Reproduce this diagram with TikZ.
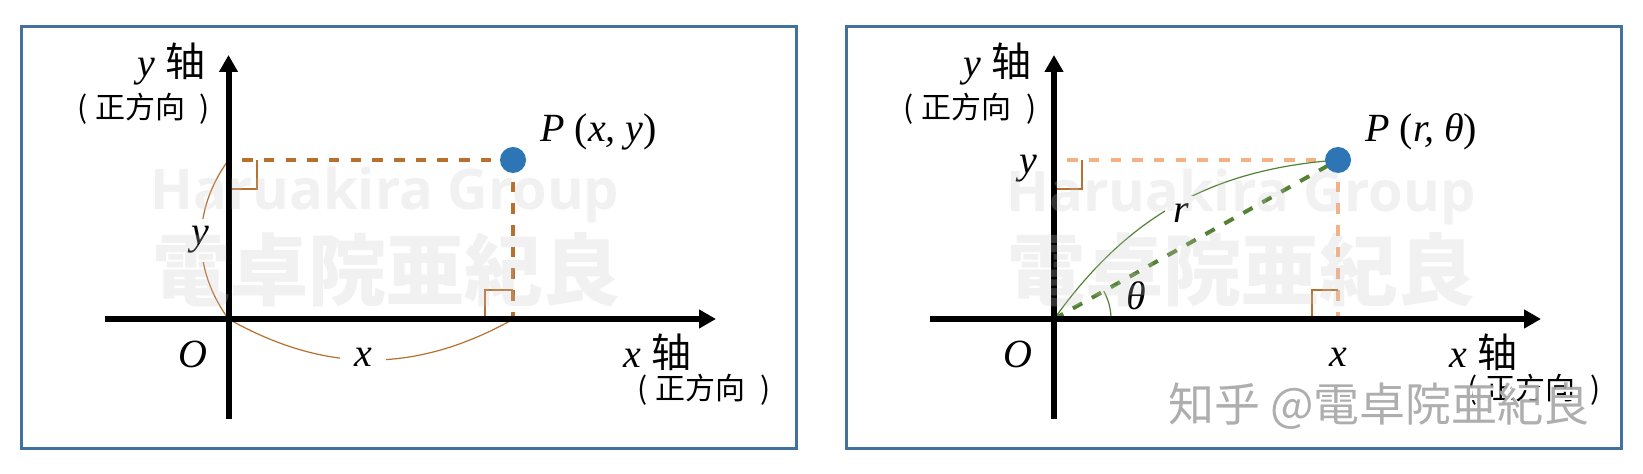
\documentclass[tikz,border=0pt]{standalone}
\usepackage{fontspec}
\setmainfont{Liberation Serif}
\newfontfamily\cjk{Noto Sans CJK SC}
\newfontfamily\wmcjk{Noto Sans CJK JP}
\newfontfamily\wmlatin{Open Sans}
\usepackage{tikz}
\usetikzlibrary{angles,arrows.meta,calc}
\definecolor{frameblue}{HTML}{41719C}
\definecolor{dotblue}{HTML}{2E75B6}
\definecolor{rulebrown}{HTML}{B8702E}
\definecolor{lightorange}{HTML}{F4B183}
\definecolor{darkgreen}{HTML}{548235}
\definecolor{markgray}{RGB}{200,200,200}

\begin{document}
\begin{tikzpicture}[x=0.5pt,y=-0.5pt,
	axis/.style={line width=3pt,-{Triangle[length=8.5pt,width=9pt]}},
	frame/.style={draw=frameblue,line width=1.5pt},
	guide/.style={line width=2pt,dash pattern=on 5.25pt off 5.6pt},
	corner/.style={draw=rulebrown,line width=0.7pt},
	brace/.style={line width=0.6pt},
	lbl/.style={font=\fontsize{20}{24}\selectfont\itshape,inner sep=1pt},
	axlbl/.style={font=\fontsize{20}{24}\selectfont,anchor=base east,inner sep=0pt},
	dirlbl/.style={font=\cjk\fontsize{15}{18}\selectfont,inner sep=0pt},
	wm/.style={text=markgray,text opacity=0.25},
	ptdot/.style={circle,fill=dotblue,minimum size=13pt,inner sep=0pt}]
		\fill[white] (0,0) rectangle (1643,474);
		\useasboundingbox (0,0) rectangle (1643,474);
		\draw[frame] (21.5,26.5) rectangle (796.5,448.5);
		\draw[frame] (846.5,26.5) rectangle (1621.5,448.5);
		\coordinate (O1) at (228.5,319);
		\coordinate (P1) at (513,160);
		\coordinate (Y1) at (228.5,160);
		\coordinate (X1) at (513,319);
		\coordinate (O2) at (1054,319);
		\coordinate (P2) at (1338,160);
		\coordinate (Y2) at (1054,160);
		\coordinate (X2) at (1338,319);
		\draw[guide,draw=rulebrown] (P1) -- (Y1);
		\draw[guide,draw=rulebrown] (P1) -- (X1);
		\draw[corner] (228.5,189) -| (257,160);
		\draw[corner] (485,319) |- (513,290);
		\draw[brace,draw=rulebrown] (Y1) to[bend right=36] (O1);
		\draw[brace,draw=rulebrown] (O1) to[bend right=29] (510,321);
		\draw[guide,draw=lightorange] (P2) -- (Y2);
		\draw[guide,draw=lightorange] (P2) -- (X2);
		\draw[corner] (1054,189) -| (1082,160);
		\draw[corner] (1312,319) |- (1338,290);
		\draw[guide,draw=darkgreen] (O2) -- (P2);
		\draw[brace,draw=darkgreen] (O2) to[bend left=25] (P2);
		\pic[draw=darkgreen,brace,angle radius=28.5pt]{angle=X2--O2--P2};
		\draw[axis] (105,319) -- (716,319);
		\draw[axis] (228.5,419) -- (228.5,55);
		\draw[axis] (930,319) -- (1541,319);
		\draw[axis] (1054,419) -- (1054,55);
		\node[axlbl] (ylab1) at (206,77) {\itshape y \upshape{\cjk 轴}};
		\node[dirlbl] (ydir1) at (143.5,109) {(\hspace{4pt}正方向\hspace{7pt})};
		\node[axlbl] (xlab1) at (692,368) {\itshape x \upshape{\cjk 轴}};
		\node[dirlbl] (xdir1) at (704,390) {(\hspace{4pt}正方向\hspace{7pt})};
		\node[lbl,anchor=base west] (Plab1) at (538,142) {P {\upshape(}x, y{\upshape)}};
		\node[lbl,anchor=base] (Olab1) at (193,368) {O};
		\node[lbl,anchor=base,fill=white,inner xsep=7pt] (xval1) at (363,367) {x};
		\node[lbl,anchor=base,fill=white,inner ysep=4pt] (yval1) at (200,245) {y};
		\node[axlbl] (ylab2) at (1032,77) {\itshape y \upshape{\cjk 轴}};
		\node[dirlbl] (ydir2) at (970,109) {(\hspace{4pt}正方向\hspace{7pt})};
		\node[axlbl] (xlab2) at (1518,368) {\itshape x \upshape{\cjk 轴}};
		\node[dirlbl] (xdir2) at (1534,390) {(\hspace{4pt}正方向\hspace{7pt})};
		\node[lbl,anchor=base west] (Plab2) at (1363,142) {P {\upshape(}r, θ{\upshape)}};
		\node[lbl,anchor=base] (Olab2) at (1018,368) {O};
		\node[lbl,anchor=base] (xval2) at (1338,367) {x};
		\node[lbl,anchor=base] (yval2) at (1028,174) {y};
		\node[lbl,anchor=base,fill=white,inner sep=4pt] (rval2) at (1181,223) {r};
		\node[lbl,anchor=base] (tval2) at (1136,310) {θ};
		\node[ptdot] (dot1) at (P1) {};
		\node[ptdot] (dot2) at (P2) {};
		\node[wm,font=\wmlatin\bfseries\fontsize{28}{30}\selectfont,anchor=base] (wmA1) at (385,210) {Haruakira Group};
		\node[wm,font=\wmcjk\bfseries\fontsize{39}{40}\selectfont] (wmB1) at (386,270) {電卓院亜紀良};
		\node[wm,font=\wmlatin\bfseries\fontsize{28}{30}\selectfont,anchor=base] (wmA2) at (1241,212) {Haruakira Group};
		\node[wm,font=\wmcjk\bfseries\fontsize{39}{40}\selectfont] (wmB2) at (1241,270) {電卓院亜紀良};
		\node[font=\wmcjk\fontsize{23}{24}\selectfont,text=white] (zh0) at (1381,408) {知乎 @電卓院亜紀良};
		\node[font=\wmcjk\fontsize{23}{24}\selectfont,text=black!35,text opacity=0.9] (zh1) at (1379,406) {知乎 @電卓院亜紀良};
\end{tikzpicture}
\end{document}
